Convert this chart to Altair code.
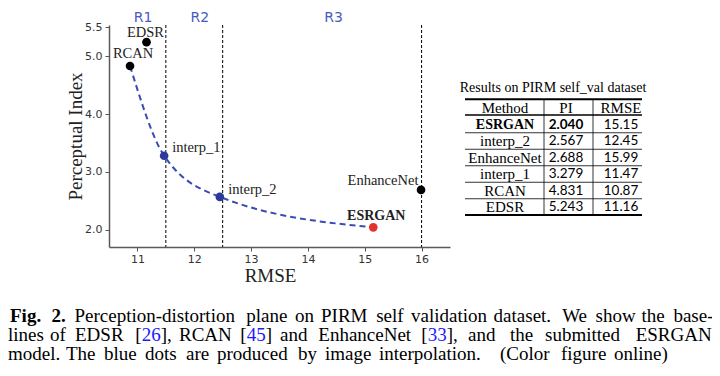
import altair as alt
import pandas as pd

# ---------------- data ----------------
methods = ["ESRGAN", "interp_2", "EnhanceNet", "interp_1", "RCAN", "EDSR"]
pi_values = [2.040, 2.567, 2.688, 3.279, 4.831, 5.243]
rmse_values = [15.15, 12.45, 15.99, 11.47, 10.87, 11.16]
groups = ["ESRGAN", "interp", "baseline", "interp", "baseline", "baseline"]
curve_members = ["RCAN", "interp_1", "interp_2", "ESRGAN"]

region_names = ["R1", "R2", "R3"]
region_centers = [11.1, 12.1, 14.45]
region_bounds = [11.5, 12.5, 16.0]

x_ticks = [11, 12, 13, 14, 15, 16]
y_ticks = [2.0, 3.0, 4.0, 5.0, 5.5]

table_title = "Results on PIRM self_val dataset"
table_header = ["Method", "PI", "RMSE"]

caption_line1 = ["Fig.", "2.", "Perception-distortion", "plane", "on", "PIRM", "self",
                 "validation", "dataset.", "We", "show", "the", "base-"]
caption_line2 = ["lines", "of", "EDSR", "[", "26", "],", "RCAN", "[", "45", "]", "and",
                 "EnhanceNet", "[", "33", "],", "and", "the", "submitted", "ESRGAN"]
caption_line3 = ["model.", "The", "blue", "dots", "are", "produced", "by", "image",
                 "interpolation.", "(Color", "figure", "online)"]

# ---------------- layout ----------------
W, H = 341, 222           # plot area
OX, OY = 109, 25          # page position of plot origin
def rx(page_x):
    return page_x - OX
def ry(page_y):
    return page_y - OY

SERIF = "Liberation Serif"
SANS = "DejaVu Sans"
BLUE_DOT = "#2b3a98"
BLUE_LINE = "#3a4cb4"
BLUE_R = "#4a5bbf"
RED = "#e3342b"
TXT = "#222222"

df = pd.DataFrame({"method": methods, "pi": pi_values, "rmse": rmse_values, "group": groups})
curve_df = df[df["method"].isin(curve_members)].sort_values("rmse")
bounds_df = pd.DataFrame({"b": region_bounds})
regions_df = pd.DataFrame({"name": region_names, "c": region_centers})

xs = alt.Scale(domain=[10.5, 16.5], nice=False, zero=False)
ys = alt.Scale(domain=[1.7, 5.54], nice=False, zero=False)

x_axis = alt.Axis(values=x_ticks, format="d", title="RMSE", grid=False,
                  labelFont=SANS, labelFontSize=11, labelColor="#333333", labelPadding=2,
                  tickSize=4, tickColor="#555555", domainColor="#5a5a5a", domainWidth=1.5,
                  titleFont=SERIF, titleFontSize=19, titleFontWeight="normal", titleColor=TXT,
                  titleX=161, titleY=28, titleBaseline="middle", titleAlign="center")
y_axis = alt.Axis(values=y_ticks, format=".1f", title="Perceptual Index", grid=False,
                  labelFont=SANS, labelFontSize=11, labelColor="#333333", labelPadding=3,
                  tickSize=4, tickColor="#555555", domainColor="#5a5a5a", domainWidth=1.5,
                  titleFont=SERIF, titleFontSize=19, titleFontWeight="normal", titleColor=TXT,
                  titleX=-34, titleY=111, titleAngle=-90, titleBaseline="middle",
                  titleAlign="center")

X = lambda f: alt.X(f, scale=xs, axis=x_axis)
Y = lambda f: alt.Y(f, scale=ys, axis=y_axis)

bounds = alt.Chart(bounds_df).mark_rule(color="black", strokeWidth=1, strokeDash=[3, 2]).encode(
    x=X("b:Q"))

region_txt = alt.Chart(regions_df).mark_text(
    font=SANS, fontSize=14, color=BLUE_R, align="center", baseline="alphabetic").encode(
    x=X("c:Q"), y=alt.value(-3), text="name:N")

curve = alt.Chart(curve_df).mark_line(
    interpolate="monotone", color=BLUE_LINE, strokeWidth=2, strokeDash=[6, 4]).encode(
    x=X("rmse:Q"), y=Y("pi:Q"))

points = alt.Chart(df).mark_circle(size=75, opacity=1).encode(
    x=X("rmse:Q"), y=Y("pi:Q"),
    color=alt.Color("group:N", legend=None,
                    scale=alt.Scale(domain=["baseline", "interp", "ESRGAN"],
                                    range=["#000000", BLUE_DOT, RED])))

def point_label(name, align, dx, dy, bold=False, size=14.5):
    return alt.Chart(df).transform_filter(alt.datum.method == name).mark_text(
        font=SERIF, fontSize=size, fontWeight="bold" if bold else "normal",
        color=TXT, align=align, baseline="alphabetic", dx=dx, dy=dy).encode(
        x=X("rmse:Q"), y=Y("pi:Q"), text="method:N")

labels = [
    point_label("EDSR", "center", -1, -5.5),
    point_label("RCAN", "center", 3, -7.7),
    point_label("interp_1", "left", 8, -4),
    point_label("interp_2", "left", 8.4, -2.5),
    point_label("ESRGAN", "center", 3, -7.3, bold=True, size=14),
    point_label("EnhanceNet", "right", -2.6, -4.8),
]

layers = [bounds, region_txt, curve, points, *labels]

# ---------------- table (pixel layout, values from the data arrays) ----------------
tab = df.sort_values("pi").reset_index(drop=True)
tab["row"] = range(1, len(tab) + 1)
tab["pi_s"] = tab["pi"].map(lambda v: f"{v:.3f}")
tab["rmse_s"] = tab["rmse"].map(lambda v: f"{v:.2f}")
head_df = pd.DataFrame({"label": table_header, "row": [0] * len(table_header)})

ROW0, ROWSTEP = 83, 16.5
COL_X = [rx(505), rx(566), rx(621)]
TAB_L, TAB_R = rx(465), rx(642)

def col_text(data, field, x, font, size, weight="normal", flt=None):
    c = alt.Chart(data)
    if flt is not None:
        c = c.transform_filter(flt)
    c = c.transform_calculate(py=f"{ROW0} + {ROWSTEP} * datum.row")
    return c.mark_text(font=font, fontSize=size, fontWeight=weight, color="black",
                       align="center", baseline="middle").encode(
        x=alt.value(x), y=alt.Y("py:Q", scale=None, axis=None), text=f"{field}:N")

best = alt.datum.method == "ESRGAN"
notbest = alt.datum.method != "ESRGAN"
layers += [
    col_text(head_df, "label", COL_X[0], SERIF, 15, flt=alt.datum.label == "Method"),
    col_text(head_df, "label", COL_X[1], SERIF, 15, flt=alt.datum.label == "PI"),
    col_text(head_df, "label", COL_X[2], SERIF, 15, flt=alt.datum.label == "RMSE"),
    col_text(tab, "method", COL_X[0], SERIF, 15, flt=notbest),
    col_text(tab, "method", COL_X[0], SERIF, 14, "bold", flt=best),
    col_text(tab, "pi_s", COL_X[1], "Lato", 13.5, flt=notbest),
    col_text(tab, "pi_s", COL_X[1], "Lato", 13.5, "bold", flt=best),
    col_text(tab, "rmse_s", COL_X[2], "Lato", 13.5),
]

TOP_Y, HEAD_Y, BOT_Y = ry(99.3), ry(115), ry(215)
SEP_Y = [ROW0 + ROWSTEP * (r + 0.5) for r in range(1, 6)]

def hline(positions, width):
    return alt.Chart(pd.DataFrame({"pos": positions})).mark_rule(
        color="black", strokeWidth=width).encode(
        y=alt.Y("pos:Q", scale=None, axis=None),
        x=alt.value(TAB_L), x2=alt.value(TAB_R))

def vline(x):
    return alt.Chart(pd.DataFrame({"pos": [TOP_Y]})).mark_rule(
        color="black", strokeWidth=0.8).encode(
        x=alt.value(x), y=alt.Y("pos:Q", scale=None, axis=None), y2=alt.value(BOT_Y))

layers += [hline([TOP_Y, BOT_Y], 2), hline([HEAD_Y], 1.4), hline(SEP_Y, 0.8),
           vline(rx(544)), vline(rx(593))]

layers.append(alt.Chart(pd.DataFrame({"t": [table_title]})).mark_text(
    font=SERIF, fontSize=14, color="black", align="center", baseline="middle").encode(
    x=alt.value(rx(553)), y=alt.value(ry(88)), text="t:N"))

# ---------------- caption ----------------
CAP_SIZE = 19
def ctext(s, x, y, color="black", weight="normal", align="left"):
    return alt.Chart(pd.DataFrame({"t": [s]})).mark_text(
        font=SERIF, fontSize=CAP_SIZE, fontWeight=weight, color=color, align=align,
        baseline="alphabetic").encode(x=alt.value(x), y=alt.value(y), text="t:N")

L1, L2, L3 = ry(322), ry(341), ry(360)

line1_pos = [10, 51.4, 74.5, 246.3, 295, 321, 376.2, 411, 493.6, 562.2, 595.6, 641.5, 673.4]
for i, (word, px) in enumerate(zip(caption_line1, line1_pos)):
    layers.append(ctext(word, rx(px), L1, weight="bold" if i < 2 else "normal"))

line2_pos = [8, 50, 75, 141.7, 141.7, 160.7, 179, 246.7, 246.7, 265.7, 280,
             318.3, 427.7, 427.7, 446.7, 468, 510, 545, 711.7]
for word, px in zip(caption_line2, line2_pos):
    if word == "[":
        layers.append(ctext(word, rx(px), L2, align="right"))
    elif word.isdigit():
        layers.append(ctext(word, rx(px), L2, color="#1a1aff"))
    elif word == "ESRGAN":
        layers.append(ctext(word, rx(px), L2, align="right"))
    else:
        layers.append(ctext(word, rx(px), L2))

line3_pos = [8, 66, 104, 145, 186, 217, 298, 325, 379, 500, 561, 614]
for word, px in zip(caption_line3, line3_pos):
    layers.append(ctext(word, rx(px), L3))

chart = alt.layer(*layers).properties(
    width=W, height=H,
    autosize=alt.AutoSizeParams(type="none"),
    padding={"left": 101, "top": 17, "right": 262, "bottom": 117},
    background="white",
).configure_view(stroke=None)

chart.save("out.html", embed_options={"renderer": "svg", "actions": False})
